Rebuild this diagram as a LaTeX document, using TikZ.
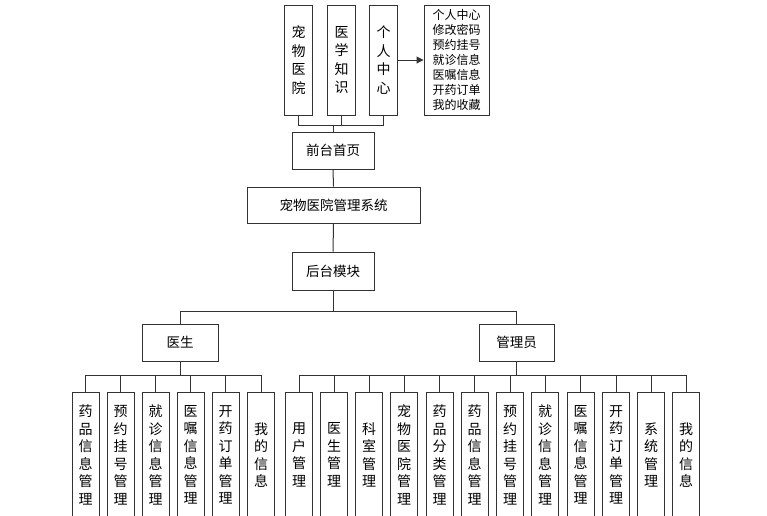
\documentclass[tikz,border=0pt]{standalone}
\usepackage{fontspec}
\newfontfamily\cjk{Noto Sans CJK SC}
\usetikzlibrary{arrows.meta}
\tikzset{
  x=1pt, y=-1pt,
  ln/.style={draw=black!80, line width=1pt},
  hbox/.style={draw=black!80, line width=1pt, fill=white, inner sep=0pt,
    font=\cjk\fontsize{13.5}{17}\selectfont},
  vtop/.style={draw=black!80, line width=1pt, fill=white, inner sep=0pt,
    minimum width=28pt, minimum height=110pt, align=center,
    font=\cjk\fontsize{14}{18.5}\selectfont},
  vbot/.style={draw=black!80, line width=1pt, fill=white, inner sep=0pt,
    minimum width=27pt, minimum height=126pt, align=center,
    font=\cjk\fontsize{14}{17.5}\selectfont},
  listbox/.style={draw=black!80, line width=1pt, fill=white, inner sep=0pt,
    minimum width=65pt, minimum height=110pt, align=left,
    font=\cjk\fontsize{12}{15}\selectfont},
}
\begin{document}
\begin{tikzpicture}
\useasboundingbox (0,0) rectangle (767,515);
\clip (0,0) rectangle (767,515);
\fill[white] (0,0) rectangle (767,515);

% top row
\node[vtop] (t1) at (298.5,60) {宠\\物\\医\\院};
\node[vtop] (t2) at (341.5,60) {医\\学\\知\\识};
\node[vtop] (t3) at (383.5,60) {个\\人\\中\\心};
\node[listbox] (lst) at (456.5,60) {个人中心\\修改密码\\预约挂号\\就诊信息\\医嘱信息\\开药订单\\我的收藏};
\draw[ln, -{Triangle[length=7pt,width=7pt]}] (t3.east) -- (lst.west);

\node[hbox, minimum width=82pt, minimum height=37pt] (front) at (333,150.5) {前台首页};
\node[hbox, minimum width=173pt, minimum height=36pt] (sys) at (333.5,205) {宠物医院管理系统};
\node[hbox, minimum width=82pt, minimum height=38pt] (back) at (333,271) {后台模块};

\coordinate (jtop) at (333,125);
\draw[ln] (t1.south) |- (t3.south |- jtop) -- (t3.south);
\draw[ln] (t2.south) -- (t2.south |- jtop);
\draw[ln] (jtop) -- (front.north);
\draw[ln] (front.south) -- (sys.north);
\draw[ln] (sys.south) -- (back.north);

\node[hbox, minimum width=76pt, minimum height=37pt] (doc) at (180,342.5) {医生};
\node[hbox, minimum width=75pt, minimum height=37pt] (adm) at (516.5,342.5) {管理员};

\coordinate (jmid) at (333,311);
\draw[ln] (back.south) -- (jmid);
\draw[ln] (doc.north) |- (adm.north |- jmid) -- (adm.north);

% doctor children
\foreach \i/\x/\t in {1/85.5/药\\品\\信\\息\\管\\理, 2/120.5/预\\约\\挂\\号\\管\\理, 3/155.5/就\\诊\\信\\息\\管\\理, 4/190.5/医\\嘱\\信\\息\\管\\理, 5/225.5/开\\药\\订\\单\\管\\理, 6/261/我\\的\\信\\息}
  \node[vbot] (d\i) at (\x,455) {\t};
\coordinate (jd) at (180,375);
\draw[ln] (doc.south) -- (jd);
\draw[ln] (d1.north) |- (d6.north |- jd) -- (d6.north);
\foreach \i in {2,...,5} \draw[ln] (d\i.north) -- (d\i.north |- jd);

% admin children
\foreach \i/\x/\t in {1/299/用\\户\\管\\理, 2/334/医\\生\\管\\理, 3/369/科\\室\\管\\理, 4/404/宠\\物\\医\\院\\管\\理, 5/439.5/药\\品\\分\\类\\管\\理, 6/474.5/药\\品\\信\\息\\管\\理, 7/510/预\\约\\挂\\号\\管\\理, 8/545/就\\诊\\信\\息\\管\\理, 9/580.5/医\\嘱\\信\\息\\管\\理, 10/616/开\\药\\订\\单\\管\\理, 11/651/系\\统\\管\\理, 12/686/我\\的\\信\\息}
  \node[vbot] (a\i) at (\x,455) {\t};
\coordinate (ja) at (516.5,375);
\draw[ln] (adm.south) -- (ja);
\draw[ln] (a1.north) |- (a12.north |- ja) -- (a12.north);
\foreach \i in {2,...,11} \draw[ln] (a\i.north) -- (a\i.north |- ja);
\end{tikzpicture}
\end{document}
